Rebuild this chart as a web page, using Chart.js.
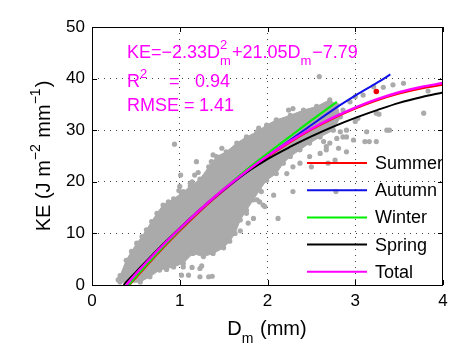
<!DOCTYPE html>
<html>
<head>
<meta charset="utf-8">
<script src="https://cdn.jsdelivr.net/npm/chart.js@4.4.1/dist/chart.umd.min.js"></script>
<style>
  html, body { margin: 0; padding: 0; background: #fff; }
</style>
</head>
<body>
<canvas id="ke-chart" width="474" height="354"></canvas>
<script>
// tick labels
const xTicks = [0, 1, 2, 3, 4];
const yTicks = [0, 10, 20, 30, 40, 50];

// legend
const seasonNames = ['Summer', 'Autumn', 'Winter', 'Spring', 'Total'];
const seasonColors = ['#ff0000', '#1010e8', '#00f000', '#000000', '#ff00ff'];

// fitted curves (Dm in mm, KE in J m-2 mm-1)
const summerD = [0.425, 0.5, 0.75, 1, 1.25, 1.5, 1.75, 2, 2.25, 2.5, 2.75, 3, 3.25, 3.5, 3.75, 4];
const summerKE = [0, 1.4, 6.1, 10.5, 14.6, 18.3, 21.7, 24.8, 27.6, 30.1, 32.3, 34.2, 35.8, 37.1, 38.1, 38.8];
const autumnD = [0.4, 0.5, 0.75, 1, 1.25, 1.5, 1.75, 2, 2.25, 2.5, 2.75, 3, 3.25, 3.4];
const autumnKE = [0, 1.9, 6.5, 10.8, 14.8, 18.4, 21.7, 25.0, 28.0, 31.0, 34.0, 36.7, 39.2, 40.8];
const winterD = [0.42, 0.5, 0.75, 1, 1.25, 1.5, 1.75, 2, 2.25, 2.5, 2.79];
const winterKE = [0, 1.6, 6.3, 10.7, 14.8, 18.6, 22.2, 25.5, 28.7, 31.9, 35.5];
const springD = [0.36, 0.5, 0.75, 1, 1.25, 1.5, 1.75, 2, 2.25, 2.5, 2.75, 3, 3.25, 3.5, 3.75, 4];
const springKE = [0, 2.5, 6.9, 11.0, 14.9, 18.5, 21.7, 24.4, 26.7, 28.8, 30.7, 32.4, 33.9, 35.3, 36.4, 37.3];
const totalD = [0.39, 0.5, 0.75, 1, 1.25, 1.5, 1.75, 2, 2.25, 2.5, 2.75, 3, 3.25, 3.5, 3.75, 4];
const totalKE = [0, 2.15, 6.69, 10.93, 14.88, 18.55, 21.91, 25.0, 27.78, 30.28, 32.48, 34.39, 36.01, 37.35, 38.38, 39.13];

// outline of the dense part of the gray cloud (upper edge, then lower edge back)
const cloudD = [0.30, 0.32, 0.39, 0.45, 0.51, 0.57, 0.62, 0.68, 0.74, 0.81, 0.87, 0.93, 1.02, 1.12, 1.23, 1.33, 1.42, 1.53, 1.65, 1.76, 1.88, 1.99, 2.10, 2.26, 2.41, 2.56, 2.71, 2.79, 2.83,
  2.75, 2.60, 2.48, 2.37, 2.26, 2.18, 2.10, 1.99, 1.91, 1.84, 1.76, 1.69, 1.63, 1.57, 1.50, 1.38, 1.27, 1.15, 1.04, 0.93, 0.77, 0.66, 0.55, 0.43, 0.32, 0.30];
const cloudKE = [1.0, 1.8, 4.8, 6.5, 8.1, 9.4, 10.7, 12.3, 13.9, 15.5, 16.1, 16.7, 17.8, 19.1, 20.5, 22.9, 24.9, 25.8, 27.5, 28.7, 29.7, 31.0, 32.0, 32.9, 33.9, 34.6, 35.9, 34.8, 32.6,
  30.0, 28.7, 27.5, 26.2, 24.9, 23.6, 21.6, 20.3, 18.4, 16.5, 14.5, 12.6, 10.0, 8.5, 7.2, 6.1, 5.5, 6.1, 4.2, 3.5, 2.9, 1.6, 0.6, 0.5, 0.6, 1.0];

// single scattered drops outside the dense cloud
const dropD = [0.94, 1.19, 1.01, 1.21, 1.12, 0.99, 1.0, 1.48, 1.38, 1.36, 1.17, 1.14, 1.90, 1.99, 1.04,
  1.93, 1.88, 1.95, 2.07, 2.29, 2.12, 2.78, 1.97, 1.91, 1.84, 1.76, 1.78, 1.69, 1.55,
  2.37, 2.48, 2.60, 2.29, 2.22, 2.50, 2.67, 2.86, 2.77, 2.69, 2.90,
  2.59, 3.21, 3.09, 3.0, 2.94, 2.86, 3.03, 3.0, 2.90, 2.83, 2.79, 2.90, 2.71, 2.81, 2.67, 2.64,
  3.13, 3.24, 3.36, 3.11, 2.98, 3.24, 2.29, 2.24, 3.16, 3.39, 3.27, 3.78, 3.32, 3.43, 3.55, 3.83,
  1.02, 1.10, 1.23, 1.33, 1.37, 0.85, 1.14, 1.23, 1.25, 1.04, 1.31, 1.35];
const dropKE = [27.3, 23.9, 21.3, 21.8, 19.7, 18.3, 19.1, 26.5, 25.2, 23.9, 21.3, 20.0, 30.4, 30.7, 18.1,
  18.1, 16.5, 15.5, 17.4, 18.1, 12.9, 18.1, 15.2, 16.1, 12.9, 13.9, 12.0, 10.5, 8.7,
  23.6, 24.9, 25.5, 22.9, 21.6, 22.9, 26.8, 28.7, 24.2, 23.6, 25.8,
  40.4, 38.4, 36.8, 36.5, 35.5, 33.9, 32.3, 31.7, 30.0, 29.7, 28.4, 28.7, 27.5, 26.5, 26.2, 27.8,
  29.7, 33.3, 30.0, 27.8, 28.1, 27.8, 34.2, 33.9, 27.8, 30.0, 33.1, 33.3, 38.3, 38.8, 39.1, 37.6,
  1.9, 1.9, 1.6, 1.6, 1.7, 3.0, 3.4, 3.2, 3.7, 3.5, 7.8, 9.0];

// the one red summer drop
const redDropD = [3.24];
const redDropKE = [37.5];

const GRAY = '#aaaaaa';
const FONT = 'Liberation Sans, Arial, Helvetica, sans-serif';

function toPoints(xs, ys) {
    return xs.map((x, i) => ({ x: x, y: ys[i] }));
}

function curve(label, xs, ys, color, order, width) {
    return {
        label: label,
        data: toPoints(xs, ys),
        showLine: true,
        borderColor: color,
        backgroundColor: color,
        borderWidth: width,
        pointRadius: 0,
        tension: 0.35,
        order: order,
    };
}

// draws text with superscript/subscript pieces, returns end x
function richText(ctx, x, y, parts, size) {
    const small = Math.round(size * 0.7);
    let cur = x;
    for (const p of parts) {
        if (p.sup !== undefined || p.sub !== undefined) {
            ctx.font = small + 'px ' + FONT;
            let w = 0;
            if (p.sup !== undefined) {
                ctx.fillText(p.sup, cur, y - size * 0.48);
                w = Math.max(w, ctx.measureText(p.sup).width);
            }
            if (p.sub !== undefined) {
                ctx.fillText(p.sub, cur, y + size * 0.38);
                w = Math.max(w, ctx.measureText(p.sub).width);
            }
            cur += w + 1;
        } else {
            ctx.font = size + 'px ' + FONT;
            ctx.fillText(p.t, cur, y);
            cur += ctx.measureText(p.t).width;
        }
    }
    return cur;
}

function richWidth(ctx, parts, size) {
    const small = Math.round(size * 0.7);
    let w = 0;
    for (const p of parts) {
        if (p.sup !== undefined || p.sub !== undefined) {
            ctx.font = small + 'px ' + FONT;
            w += Math.max(p.sup ? ctx.measureText(p.sup).width : 0, p.sub ? ctx.measureText(p.sub).width : 0) + 1;
        } else {
            ctx.font = size + 'px ' + FONT;
            w += ctx.measureText(p.t).width;
        }
    }
    return w;
}

const decorPlugin = {
    id: 'decor',
    afterDraw(chart) {
        const { ctx, chartArea: a, scales } = chart;
        ctx.save();

        // box and inward ticks like the original figure
        ctx.strokeStyle = '#000';
        ctx.lineWidth = 1;
        ctx.strokeRect(a.left + 0.5, a.top + 0.5, a.right - a.left - 1, a.bottom - a.top);
        ctx.beginPath();
        for (const v of xTicks) {
            const px = Math.round(scales.x.getPixelForValue(v)) + 0.5;
            ctx.moveTo(px, a.bottom); ctx.lineTo(px, a.bottom - 5);
            ctx.moveTo(px, a.top); ctx.lineTo(px, a.top + 5);
        }
        for (const v of yTicks) {
            const py = Math.round(scales.y.getPixelForValue(v)) + 0.5;
            ctx.moveTo(a.left, py); ctx.lineTo(a.left + 5, py);
            ctx.moveTo(a.right, py); ctx.lineTo(a.right - 5, py);
        }
        ctx.stroke();

        // legend inside the plot
        ctx.textBaseline = 'middle';
        ctx.textAlign = 'left';
        seasonNames.forEach((name, i) => {
            const y = 163 + i * 27.2;
            ctx.strokeStyle = seasonColors[i];
            ctx.lineWidth = 2;
            ctx.beginPath();
            ctx.moveTo(307, y); ctx.lineTo(367, y);
            ctx.stroke();
            ctx.fillStyle = '#000';
            ctx.font = '18px ' + FONT;
            ctx.fillText(name, 375, y + 1);
        });

        // fit annotation
        ctx.textBaseline = 'alphabetic';
        ctx.fillStyle = '#f0f';
        richText(ctx, 127, 58, [
            { t: 'KE=\u22122.33D' }, { sup: '2', sub: 'm' },
            { t: '+21.05D' }, { sub: 'm' }, { t: '\u22127.79' },
        ], 18);
        richText(ctx, 127, 87, [{ t: 'R' }, { sup: '2' }], 18);
        ctx.font = '18px ' + FONT;
        ctx.fillText('=', 169, 87);
        ctx.fillText('0.94', 195, 87);
        ctx.fillText('RMSE', 127, 111);
        ctx.fillText('=', 184, 111);
        ctx.fillText('1.41', 199, 111);

        // axis titles
        ctx.fillStyle = '#000';
        const xTitle = [{ t: 'D' }, { sub: 'm' }, { t: ' (mm)' }];
        const xw = richWidth(ctx, xTitle, 20);
        richText(ctx, 267 - xw / 2, 335, xTitle, 20);

        const yTitle = [{ t: 'KE (J m' }, { sup: '\u22122' }, { t: ' mm' }, { sup: '\u22121' }, { t: ')' }];
        const yw = richWidth(ctx, yTitle, 20);
        ctx.translate(50, 156);
        ctx.rotate(-Math.PI / 2);
        richText(ctx, -yw / 2, 0, yTitle, 20);

        ctx.restore();
    },
};

function gridColor(ctx, lastValue) {
    const v = ctx.tick ? ctx.tick.value : null;
    return v === 0 || v === lastValue ? 'rgba(0,0,0,0)' : '#444';
}

const chart = new Chart(document.getElementById('ke-chart'), {
    type: 'scatter',
    data: {
        datasets: [
            {
                label: 'cloud',
                data: toPoints(cloudD, cloudKE),
                showLine: true,
                fill: 'shape',
                backgroundColor: GRAY,
                borderColor: GRAY,
                borderWidth: 1,
                pointRadius: 2.6,
                pointBackgroundColor: GRAY,
                pointBorderWidth: 0,
                tension: 0,
                order: 10,
            },
            {
                label: 'drops',
                data: toPoints(dropD, dropKE),
                backgroundColor: GRAY,
                borderWidth: 0,
                pointRadius: 2.6,
                order: 9,
            },
            curve(seasonNames[0], summerD, summerKE, seasonColors[0], 7, 2),
            curve(seasonNames[1], autumnD, autumnKE, seasonColors[1], 6, 2),
            curve(seasonNames[2], winterD, winterKE, seasonColors[2], 5, 2),
            curve(seasonNames[3], springD, springKE, seasonColors[3], 4, 2),
            curve(seasonNames[4], totalD, totalKE, seasonColors[4], 3, 2.5),
            {
                label: 'red drop',
                data: toPoints(redDropD, redDropKE),
                backgroundColor: '#ee0000',
                borderWidth: 0,
                pointRadius: 2.8,
                order: 1,
            },
        ],
    },
    options: {
        responsive: false,
        animation: false,
        devicePixelRatio: 1,
        layout: { padding: { top: 27, right: 31, left: 0, bottom: 0 } },
        plugins: {
            legend: { display: false },
            tooltip: { enabled: false },
        },
        scales: {
            x: {
                type: 'linear',
                min: 0,
                max: 4,
                afterFit: (s) => { s.height = 69; },
                afterBuildTicks: (s) => { s.ticks = xTicks.map((v) => ({ value: v })); },
                ticks: { color: '#000', padding: 6, font: { family: FONT, size: 17 } },
                grid: { drawTicks: false, lineWidth: 1, color: (c) => gridColor(c, 4) },
                border: { display: false, dash: [1, 5] },
            },
            y: {
                type: 'linear',
                min: 0,
                max: 50,
                afterFit: (s) => { s.width = 92; },
                afterBuildTicks: (s) => { s.ticks = yTicks.map((v) => ({ value: v })); },
                ticks: { color: '#000', padding: 7, font: { family: FONT, size: 17 } },
                grid: { drawTicks: false, lineWidth: 1, color: (c) => gridColor(c, 50) },
                border: { display: false, dash: [1, 5] },
            },
        },
    },
    plugins: [decorPlugin],
});
</script>
</body>
</html>
